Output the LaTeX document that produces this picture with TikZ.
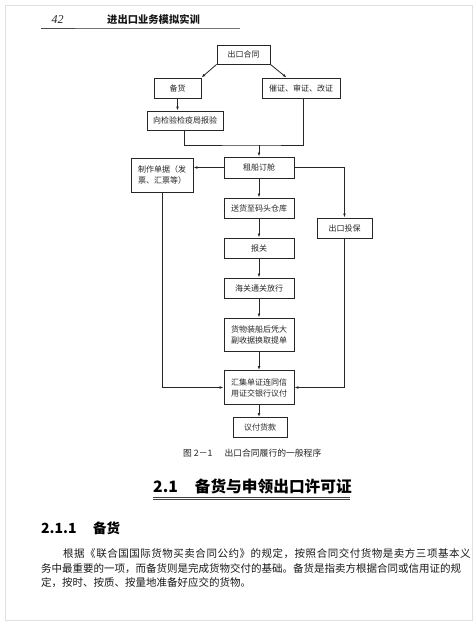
\documentclass[tikz,border=0pt]{standalone}
\usepackage{fontspec}
\usetikzlibrary{arrows.meta,calc}
\newfontfamily\cjk{Noto Sans CJK SC}
\newfontfamily\cjkwide[LetterSpace=5]{Noto Sans CJK SC}
\newfontfamily\pgfont{Liberation Serif}
\tikzset{
  box/.style={draw=black!85, line width=0.9pt, inner sep=0pt, align=center,
    text=black!85, font=\cjk\fontsize{8}{11}\selectfont},
  conn/.style={draw=black!85, line width=0.8pt},
  arr/.style={conn, -{Latex[length=4pt,width=2.8pt]}},
  body/.style={anchor=west, inner sep=0pt, text=black!90, font=\cjk\fontsize{10.5}{12}\selectfont},
}
\begin{document}
\begin{tikzpicture}[x=1pt,y=-1pt]
\useasboundingbox (0,0) rectangle (474,622);
\fill[white] (0,0) rectangle (474,622);
\draw[black!12, line width=0.8pt] (5,5) rectangle (472,620);

% header
\node[inner sep=0pt, text=black!85, font=\pgfont\itshape\fontsize{12}{14}\selectfont] (pgno) at (57.5,20) {42};
\node[anchor=west, inner sep=0pt, text=black!90, font=\cjk\bfseries\fontsize{10.3}{12}\selectfont] (hdr) at (107,20) {进出口业务模拟实训};
\draw[black!55, line width=0.6pt] (41,28) -- (240,28);
\draw[black!70, line width=1pt] (41,28) -- (75,28);

% flowchart boxes
\node[box, minimum width=53pt, minimum height=19pt] (hetong) at (243.5,54.5) {出口合同};
\node[box, minimum width=47pt, minimum height=20pt] (beihuo) at (177.5,88) {备货};
\node[box, minimum width=78pt, minimum height=20pt] (cuizheng) at (301,88) {催证、审证、改证};
\node[box, minimum width=76pt, minimum height=19pt] (baoyan) at (185,120.5) {向检验检疫局报验};
\node[box, minimum width=70pt, minimum height=21pt] (zuchuan) at (259,167.5) {租船订舱};
\node[box, minimum width=62pt, minimum height=34pt, align=left] (danju) at (162,175) {制作单据（发\\票、汇票等）};
\node[box, minimum width=70pt, minimum height=20pt] (songhuo) at (259,208) {送货至码头仓库};
\node[box, minimum width=55pt, minimum height=20pt] (toubao) at (344.5,228) {出口投保};
\node[box, minimum width=70pt, minimum height=20pt] (baoguan) at (259,248) {报关};
\node[box, minimum width=70pt, minimum height=20pt] (fangxing) at (259,288) {海关通关放行};
\node[box, minimum width=70pt, minimum height=33pt] (zhuangchuan) at (259,334.5) {货物装船后凭大\\副收据换取提单};
\node[box, minimum width=70pt, minimum height=34pt] (huiji) at (259,387.5) {汇集单证连同信\\用证交银行议付};
\node[box, minimum width=54pt, minimum height=20pt] (yifu) at (260,427.5) {议付货款};

% connectors
\coordinate (cz) at ([xshift=25pt]cuizheng.north west);
\draw[arr] (hetong.south west) -- (beihuo.north east);
\draw[arr] (hetong.south east) -- (cz);
\draw[arr] (beihuo.south) -- (beihuo.south |- baoyan.north);
\coordinate (jl) at ([xshift=-1pt]baoyan.south);
\coordinate (jr) at ([xshift=2pt]cuizheng.south);
\coordinate (jm) at (259,145);
\draw[conn] (jl) |- (jm) -| (jr);
\draw[arr] (jm) -- (zuchuan.north);
\draw[arr] (zuchuan.west) -- (danju.east |- zuchuan.west);
\draw[arr] (zuchuan.east) -| (toubao.north);
\draw[arr] (zuchuan.south) -- (songhuo.north);
\draw[arr] (songhuo.south) -- (baoguan.north);
\draw[arr] (baoguan.south) -- (fangxing.north);
\draw[arr] (fangxing.south) -- (zhuangchuan.north);
\draw[arr] (zhuangchuan.south) -- (huiji.north);
\draw[arr] (huiji.south) -- (huiji.south |- yifu.north);
\draw[arr] (danju.south) |- (huiji.west);
\draw[arr] (toubao.south) |- (huiji.east);

% caption
\node[anchor=west, inner sep=0pt, text=black!85, font=\cjk\fontsize{8.8}{11}\selectfont] (cap) at (183,453) {图 2－1\hspace{12pt}出口合同履行的一般程序};

% section title
\node[anchor=west, inner sep=0pt, text=black, font=\cjk\bfseries\fontsize{15.7}{18}\selectfont] (sec) at (153,487) {2.1\hspace{17pt}备货与申领出口许可证};
\draw[black!75, line width=1pt] (153,497) -- (350,497);
\draw[black!75, line width=0.6pt] (153,499.5) -- (350,499.5);

% subsection
\node[anchor=west, inner sep=0pt, text=black, font=\cjk\bfseries\fontsize{14}{16}\selectfont] (subnum) at (41,528) {2.1.1};
\node[anchor=west, inner sep=0pt, text=black, font=\cjk\bfseries\fontsize{13.5}{16}\selectfont] (subtit) at (93,528) {备货};

% paragraph
\node[body, font=\cjkwide\fontsize{10.5}{12}\selectfont] (p1) at (63,554) {根据《联合国国际货物买卖合同公约》的规定，按照合同交付货物是卖方三项基本义};
\node[body] (p2) at (41,568.5) {务中最重要的一项，而备货则是完成货物交付的基础。备货是指卖方根据合同或信用证的规};
\node[body] (p3) at (41,583) {定，按时、按质、按量地准备好应交的货物。};
\end{tikzpicture}
\end{document}
